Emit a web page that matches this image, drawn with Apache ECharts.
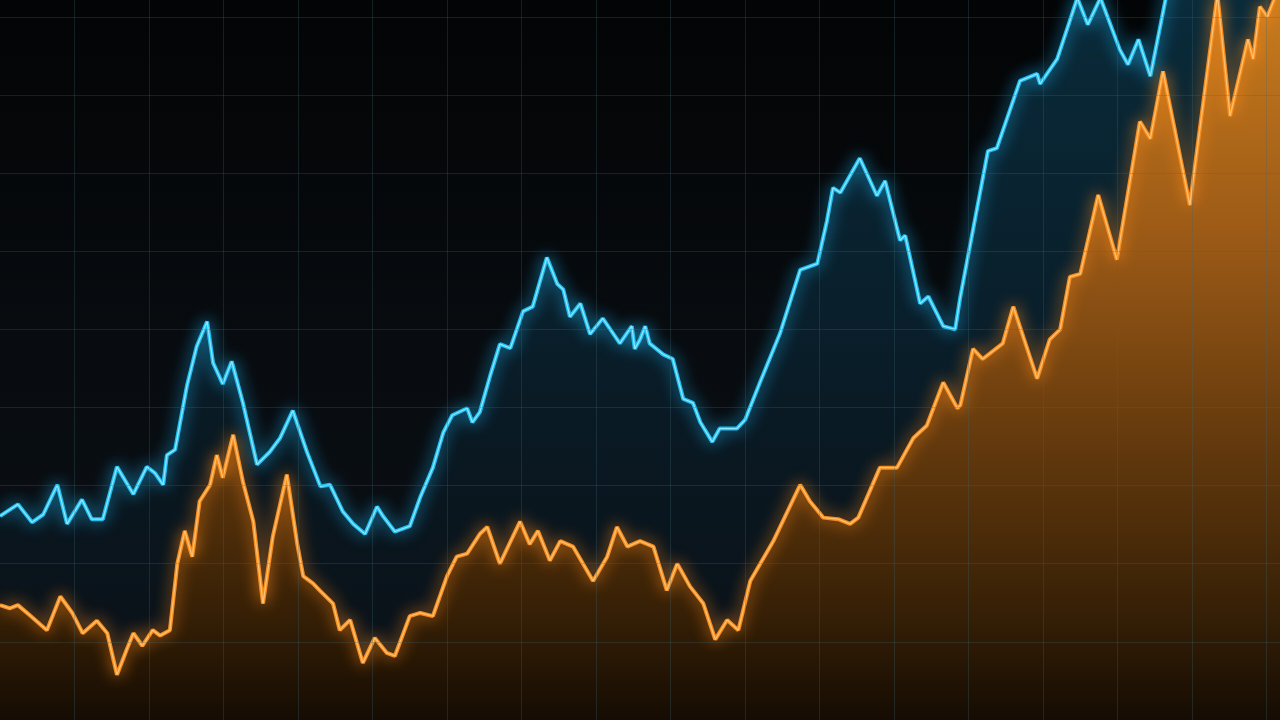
<!DOCTYPE html>
<html>
<head>
<meta charset="utf-8">
<script src="https://cdn.jsdelivr.net/npm/echarts@6/dist/echarts.min.js"></script>
<style>
html,body{margin:0;padding:0;background:#05070a;}
#chart{width:1280px;height:720px;}
</style>
</head>
<body>
<div id="chart"></div>
<script>
// time index (arbitrary units) and values
const cyanT = [0,2.4,4.3,5.8,7.7,9.0,11.0,12.3,13.8,15.7,17.9,19.7,20.8,21.9,22.4,23.5,25.1,26.4,27.8,28.6,29.9,31.1,32.6,34.5,36.2,37.6,39.3,41.2,43.0,44.3,46.0,47.4,49.0,50.6,51.4,53.0,55.0,56.4,58.1,59.5,60.7,62.7,63.4,64.4,65.8,67.1,68.5,70.2,71.5,73.4,74.8,75.6,76.5,77.9,79.2,80.9,83.2,84.8,85.2,85.9,86.6,87.2,89.0,90.3,91.7,93.0,94.0,95.6,96.6,98.9,100.0,102.0,104.7,107.4,109.7,111.0,111.8,112.8,115.4,117.7,118.8,120.8,121.5,123.5,124.6,126.6,128.2,128.9,132.6,133.8,136.9,139.2,139.6,141.9,144.6,146.0,147.7,150.3,151.4,152.8,154.4,156.6,159.1,165.1,171.8];
const cyanV = [26.1,27.6,25.3,26.3,30.1,25.1,28.2,25.7,25.7,32.4,28.9,32.4,31.6,30.1,33.9,34.6,42.8,47.8,51.0,45.7,43.0,45.9,40.6,32.7,34.3,36.1,39.6,34.3,29.9,30.1,26.7,25.1,23.8,27.3,26.1,24.1,24.8,28.5,32.3,36.8,39.0,39.9,38.1,39.4,44.1,48.1,47.6,52.3,52.9,59.2,55.8,55.1,51.6,53.3,49.4,51.4,48.2,50.4,47.5,48.7,50.4,48.2,46.8,46.2,41.1,40.6,38.1,35.6,37.3,37.3,38.4,43.2,49.5,57.6,58.4,63.9,68.1,67.5,71.9,67.1,69.0,61.4,62.0,53.3,54.2,50.4,50.0,54.2,72.8,73.2,81.8,82.7,81.4,84.6,92.4,89.0,92.4,85.8,83.9,87.1,82.4,93.0,97.2,98.5,99.7];

const orangeT = [0,1.3,2.4,4.0,6.3,8.1,9.7,11.1,13.0,14.4,15.7,17.0,17.9,19.1,20.5,21.5,22.8,23.8,24.8,25.8,26.8,28.2,29.1,29.9,31.3,32.6,34.0,35.3,36.6,38.5,39.9,40.7,42.0,43.0,44.7,45.6,47.0,48.7,50.3,51.9,53.0,55.0,56.4,58.1,60.0,61.3,62.7,64.4,65.4,67.1,69.8,71.1,72.2,73.8,75.2,76.9,79.6,81.5,82.8,84.2,85.9,87.7,89.5,90.9,92.6,94.4,96.0,97.6,99.1,100.7,103.8,107.4,108.7,110.5,112.5,114.1,115.2,118.1,120.4,122.6,124.4,126.6,128.5,128.9,130.6,131.9,134.6,136.0,139.2,140.9,142.3,143.6,145.0,147.4,149.9,153.0,154.4,156.1,159.7,163.4,165.1,167.5,168.2,169.1,170.1,171.8];
const orangeV = [14.7,14.3,14.7,13.4,11.5,15.8,13.7,11.1,12.7,11.1,5.8,9.0,11.1,9.5,11.5,10.8,11.5,20.0,24.2,20.9,28.0,30.1,33.9,31.0,36.5,30.5,25.4,14.9,23.4,31.4,22.5,18.4,17.5,16.5,14.9,11.5,12.8,7.3,10.5,8.6,8.2,13.3,13.7,13.3,18.4,20.9,21.3,23.8,24.7,20.0,25.4,22.5,24.2,20.4,22.9,22.2,17.8,20.9,24.7,22.2,22.9,22.2,16.6,20.0,17.1,14.9,10.3,12.8,11.5,17.8,22.9,30.1,28.0,25.9,25.7,25.1,25.9,32.3,32.3,36.1,37.7,43.2,39.9,40.3,47.5,46.2,48.2,52.9,43.7,48.7,50.0,56.7,57.1,67.2,58.9,76.6,74.4,83.0,65.9,92.8,77.3,87.1,84.6,91.3,90.0,94.1];

const cyanData = cyanT.map((t, i) => [t, cyanV[i]]);
const orangeData = orangeT.map((t, i) => [t, orangeV[i]]);

const chart = echarts.init(document.getElementById('chart'), null, {renderer: 'canvas'});
const gridLine = {show: true, showMinLine: false, showMaxLine: false, lineStyle: {color: 'rgba(60,105,115,0.28)', width: 1}};
chart.setOption({
  backgroundColor: new echarts.graphic.LinearGradient(0, 0, 0, 1, [
    {offset: 0, color: '#030405'},
    {offset: 0.5, color: '#080c10'},
    {offset: 1, color: '#0b1117'}
  ]),
  animation: false,
  grid: {left: 0, right: 0, top: 0, bottom: -8, containLabel: false},
  xAxis: {
    type: 'value', min: 0, max: 171.8, interval: 10, z: 3,
    axisLine: {show: false}, axisTick: {show: false}, axisLabel: {show: false},
    splitLine: gridLine
  },
  yAxis: {
    type: 'value', min: 0, max: 92.15, interval: 10, z: 3,
    axisLine: {show: false}, axisTick: {show: false}, axisLabel: {show: false},
    splitLine: gridLine
  },
  series: [
    {
      type: 'line', data: cyanData, showSymbol: false, z: 2,
      lineStyle: {color: '#1fbef0', width: 4, shadowBlur: 16, shadowColor: 'rgba(30,190,255,0.95)'},
      areaStyle: {
        color: new echarts.graphic.LinearGradient(0, 0, 0, 1, [
          {offset: 0, color: 'rgba(25,125,170,0.5)'},
          {offset: 0.5, color: 'rgba(15,88,125,0.36)'},
          {offset: 1, color: 'rgba(10,40,60,0.05)'}
        ])
      }
    },
    {
      type: 'line', data: cyanData, showSymbol: false, z: 2,
      lineStyle: {color: '#8fe6ff', width: 1.3}
    },
    {
      type: 'line', data: orangeData, showSymbol: false, z: 2,
      lineStyle: {color: '#f68d1f', width: 4, shadowBlur: 16, shadowColor: 'rgba(255,140,30,0.95)'},
      areaStyle: {
        opacity: 1,
        color: new echarts.graphic.LinearGradient(0, 0, 0, 1, [
          {offset: 0, color: '#cc7d1d'},
          {offset: 0.35, color: '#9a5916'},
          {offset: 0.6, color: '#683c0e'},
          {offset: 0.85, color: '#372006'},
          {offset: 1, color: '#150c03'}
        ])
      }
    },
    {
      type: 'line', data: orangeData, showSymbol: false, z: 2,
      lineStyle: {color: '#ffc272', width: 1.3}
    }
  ]
});
</script>
</body>
</html>
